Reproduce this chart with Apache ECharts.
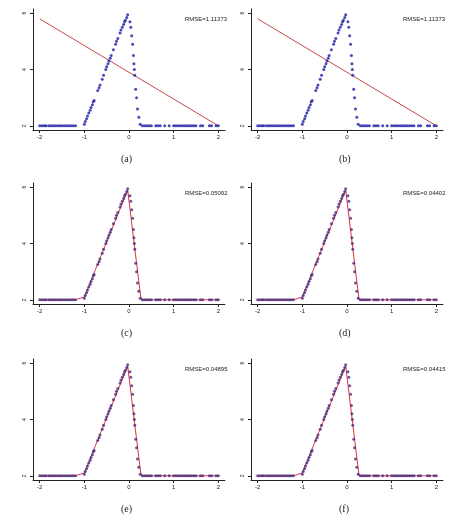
<!DOCTYPE html>
<html><head><meta charset="utf-8">
<script src="https://cdn.jsdelivr.net/npm/echarts@6/dist/echarts.min.js"></script>
<style>html,body{margin:0;padding:0;background:#fff}#c{width:474px;height:523px}</style>
</head><body><div id="c"></div>
<script>
const ptX = [-2,-1.95,-1.9,-1.86,-1.8,-1.75,-1.7,-1.65,-1.6,-1.55,-1.5,-1.45,-1.4,-1.35,-1.3,-1.25,-1.2,
 -1.0,-0.98,-0.95,-0.93,-0.9,-0.87,-0.85,-0.82,-0.8,-0.78,-0.7,-0.67,-0.65,-0.6,-0.57,-0.52,-0.5,-0.47,-0.45,-0.42,-0.4,-0.35,-0.3,-0.28,-0.25,-0.2,-0.18,-0.15,-0.12,-0.1,-0.08,-0.05,-0.03,
 0.02,0.04,0.06,0.08,0.1,0.11,0.12,0.13,0.15,0.17,0.19,0.22,0.25,
 0.3,0.35,0.4,0.45,0.5,0.6,0.65,0.7,0.8,0.9,1.0,1.05,1.1,1.15,1.2,1.25,1.3,1.35,1.4,1.45,1.5,1.6,1.65,1.8,1.85,1.95,2.0];
const ptY = [2,2,2,2,2,2,2,2,2,2,2,2,2,2,2,2,2,
 2.05,2.15,2.25,2.35,2.45,2.55,2.65,2.75,2.85,2.9,3.25,3.35,3.45,3.65,3.8,4.0,4.1,4.2,4.3,4.4,4.5,4.7,4.9,5.0,5.1,5.3,5.4,5.5,5.6,5.7,5.75,5.85,5.95,
 5.7,5.5,5.2,4.9,4.5,4.2,4.0,3.8,3.3,3.0,2.6,2.3,2.05,
 2,2,2,2,2,2,2,2,2,2,2,2,2,2,2,2,2,2,2,2,2,2,2,2,2,2,2];
const linearFit = [[-2,5.8],[2,2]];
const pieceFit = [[-2,2],[-1.2,2],[-1,2.1],[-0.03,5.9],[0.27,2],[2,2]];
const rmse = ["RMSE=1.11373","RMSE=1.11373","RMSE=0.05092","RMSE=0.04402","RMSE=0.04895","RMSE=0.04415"];
const captions = ["(a)","(b)","(c)","(d)","(e)","(f)"];
const xTicks = [-2,-1,0,1,2];
const yTicks = [2,4,6];

const pts = ptX.map((x,i)=>[x,ptY[i]]);
const lefts=[33,251], tops=[9,183,359];
const grid=[],xAxis=[],yAxis=[],series=[],graphic=[];
for(let k=0;k<6;k++){
  const c=k%2, r=Math.floor(k/2);
  grid.push({left:lefts[c],top:tops[r],width:192,height:121});
  xAxis.push({gridIndex:k,type:'value',min:-2.15,max:2.15,splitLine:{show:false},
    axisLine:{onZero:false,lineStyle:{color:'#222'}},axisTick:{length:3,customValues:xTicks,lineStyle:{color:'#222'}},
    axisLabel:{customValues:xTicks,fontSize:6,color:'#222',margin:4}});
  yAxis.push({gridIndex:k,type:'value',min:1.85,max:6.15,splitLine:{show:false},
    axisLine:{show:true,onZero:false,lineStyle:{color:'#222'}},axisTick:{show:true,length:3,customValues:yTicks,lineStyle:{color:'#222'}},
    axisLabel:{customValues:yTicks,fontSize:5,color:'#222',rotate:90,margin:6}});
  const top=r===0;
  series.push({type:'line',xAxisIndex:k,yAxisIndex:k,data:top?linearFit:pieceFit,symbol:'none',
    lineStyle:{color:top?'#c84848':'#e03050',width:1},z:2,silent:true});
  series.push({type:'scatter',xAxisIndex:k,yAxisIndex:k,data:pts,symbolSize:3,
    itemStyle:{color:top?'#1c1ca8':'#4a2a7a'},z:3,silent:true});
  graphic.push({type:'text',left:lefts[c]+152,top:tops[r]+7,style:{text:rmse[k],fontSize:6,fill:'#222',fontFamily:'Liberation Sans'}});
  graphic.push({type:'text',left:lefts[c]+88,top:tops[r]+145,style:{text:captions[k],fontSize:10,fill:'#222',fontFamily:'Liberation Serif'}});
}
const ch=echarts.init(document.getElementById('c'));
ch.setOption({animation:false,grid,xAxis,yAxis,series,graphic});
</script></body></html>
